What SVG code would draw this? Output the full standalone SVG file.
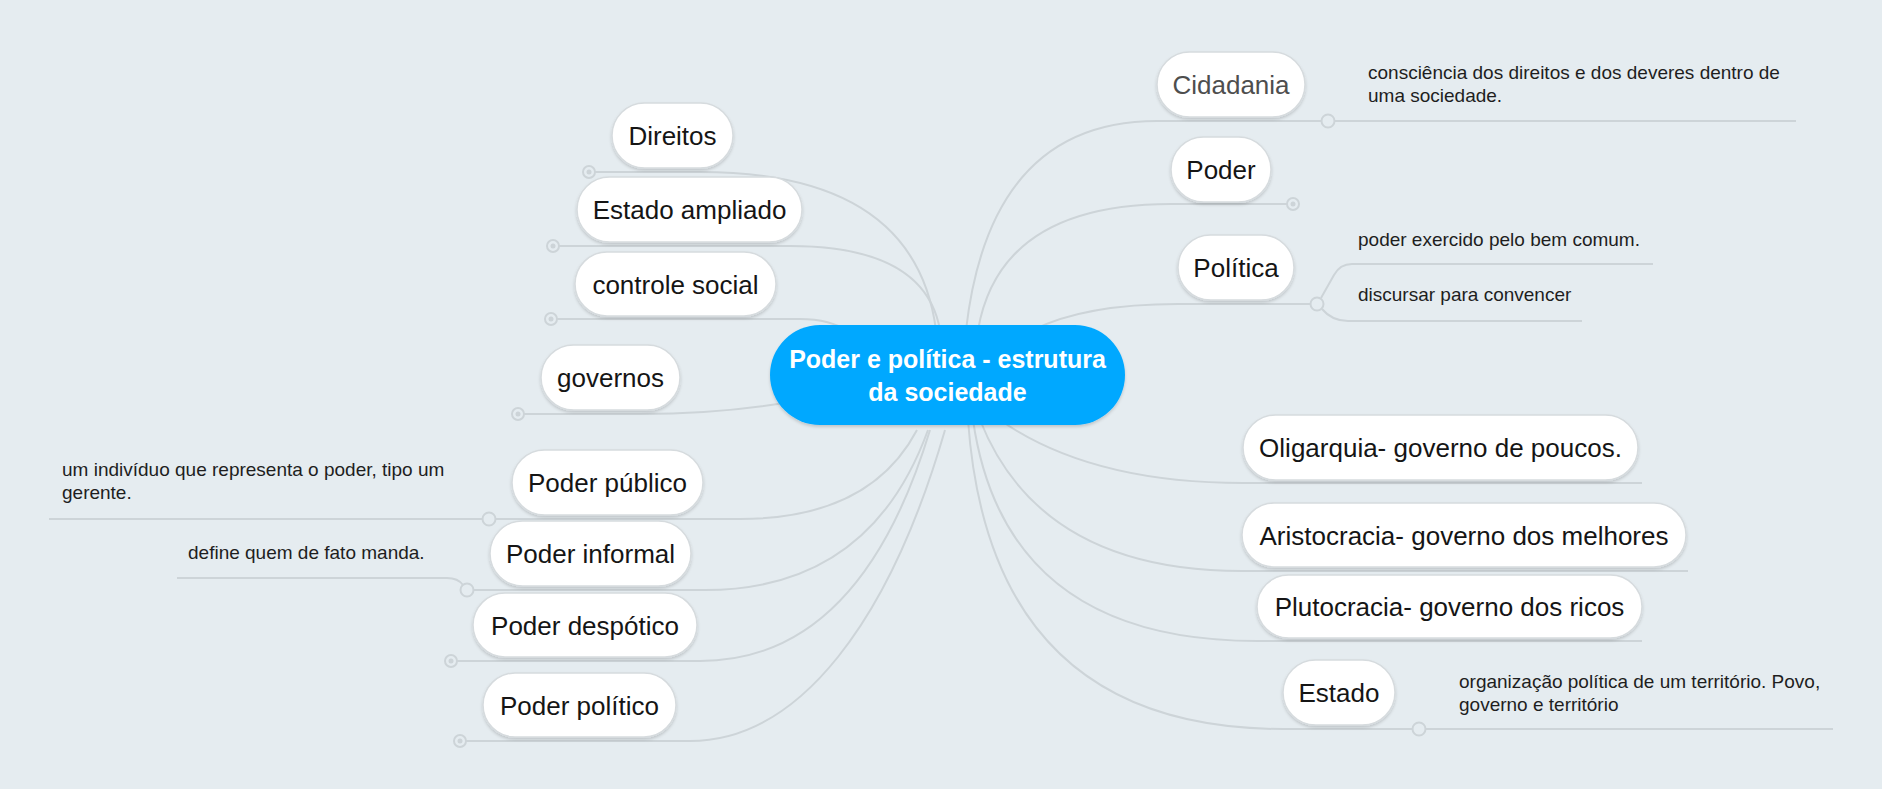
<svg xmlns="http://www.w3.org/2000/svg" width="1882" height="789" viewBox="0 0 1882 789">
<defs>
<filter id="sh" x="-10%" y="-20%" width="120%" height="150%">
<feDropShadow dx="0" dy="2" stdDeviation="1.6" flood-color="#000" flood-opacity="0.16"/>
</filter>
<style>
.bg{fill:#e5ecf0}
.ln{fill:none;stroke:#cdd4d8;stroke-width:2}
.node rect{fill:#fff;stroke:#d6dbde;stroke-width:1.5;filter:url(#sh)}
.node text{font-family:"Liberation Sans",Arial,sans-serif;font-size:26px;fill:#151515;text-anchor:middle}
.root rect{fill:#00a8ff;filter:url(#sh)}
.root text{font-family:"Liberation Sans",Arial,sans-serif;font-size:25px;font-weight:bold;fill:#fff;text-anchor:middle}
.desc{font-family:"Liberation Sans",Arial,sans-serif;font-size:19px;fill:#1e1e1e}
.oc{fill:#e5ecf0;stroke:#cdd4d8;stroke-width:2}
.dot{fill:#cdd4d8}
</style>
</defs>
<rect class="bg" x="0" y="0" width="1882" height="789"/>
<g id="connectors">
<path class="ln" d="M966,330 Q990,121 1157,121 L1796,121"/>
<path class="ln" d="M978,330 Q1000,204 1171,204 L1287,204"/>
<path class="ln" d="M1033,330 Q1085,304 1178,304 L1311,304"/>
<path class="ln" d="M1321,298 L1334,275 Q1340,264 1352,264 L1653,264"/>
<path class="ln" d="M1322,309 Q1332,321 1348,321 L1582,321"/>
<path class="ln" d="M1000,420 Q1090,483 1243,483 L1642,483"/>
<path class="ln" d="M980,420 Q1040,571 1242,571 L1688,571"/>
<path class="ln" d="M973,420 Q1005,641 1257,641 L1642,641"/>
<path class="ln" d="M968,420 Q990,729 1283,729 L1833,729"/>
<path class="ln" d="M595,172 L700,172 Q915,172 936,330"/>
<path class="ln" d="M559,246 L790,246 Q925,246 940,330"/>
<path class="ln" d="M557,319 L800,319 Q830,319 850,332"/>
<path class="ln" d="M524,414 L640,414 Q720,414 790,402"/>
<path class="ln" d="M49,519 L740,519 Q870,519 917,430"/>
<path class="ln" d="M177,578 L447,578 Q458,578 463,585"/>
<path class="ln" d="M467,590 L705,590 Q870,590 928,430"/>
<path class="ln" d="M457,661 L700,661 Q860,661 930,430"/>
<path class="ln" d="M466,741 L690,741 C800,741 890,620 945,430"/>
<circle class="oc" cx="1328" cy="121" r="6.5"/>
<circle class="oc" cx="1317" cy="304" r="6.5"/>
<circle class="oc" cx="1419" cy="729" r="6.5"/>
<circle class="oc" cx="489" cy="519" r="6.5"/>
<circle class="oc" cx="467" cy="590" r="6.5"/>
<circle class="oc" cx="1293" cy="204" r="6"/><circle class="dot" cx="1293" cy="204" r="2.5"/>
<circle class="oc" cx="589" cy="172" r="6"/><circle class="dot" cx="589" cy="172" r="2.5"/>
<circle class="oc" cx="553" cy="246" r="6"/><circle class="dot" cx="553" cy="246" r="2.5"/>
<circle class="oc" cx="551" cy="319" r="6"/><circle class="dot" cx="551" cy="319" r="2.5"/>
<circle class="oc" cx="518" cy="414" r="6"/><circle class="dot" cx="518" cy="414" r="2.5"/>
<circle class="oc" cx="451" cy="661" r="6"/><circle class="dot" cx="451" cy="661" r="2.5"/>
<circle class="oc" cx="460" cy="741" r="6"/><circle class="dot" cx="460" cy="741" r="2.5"/>
</g>
<g id="root" class="root">
<rect x="770" y="325" width="355" height="100" rx="50"/>
<text x="947.5" y="368">Poder e política - estrutura</text>
<text x="947.5" y="401">da sociedade</text>
</g>
<g id="n-cidadania" class="node"><rect x="1157" y="52" width="148" height="65" rx="32.5"/><text x="1231" y="94" style="fill:#4e4e4e">Cidadania</text></g>
<g id="n-poder" class="node"><rect x="1171" y="137" width="100" height="65" rx="32.5"/><text x="1221" y="179">Poder</text></g>
<g id="n-politica" class="node"><rect x="1178" y="235" width="116" height="65" rx="32.5"/><text x="1236" y="277">Política</text></g>
<g id="n-oligarquia" class="node"><rect x="1243" y="415" width="395" height="65" rx="32.5"/><text x="1440.5" y="457">Oligarquia- governo de poucos.</text></g>
<g id="n-aristocracia" class="node"><rect x="1242" y="503" width="444" height="64" rx="32"/><text x="1464" y="544.5">Aristocracia- governo dos melhores</text></g>
<g id="n-plutocracia" class="node"><rect x="1257" y="575" width="385" height="63" rx="31.5"/><text x="1449.5" y="616">Plutocracia- governo dos ricos</text></g>
<g id="n-estado" class="node"><rect x="1283" y="660" width="112" height="65" rx="32.5"/><text x="1339" y="702">Estado</text></g>
<g id="n-direitos" class="node"><rect x="612" y="103" width="121" height="65" rx="32.5"/><text x="672.5" y="145">Direitos</text></g>
<g id="n-estado-ampliado" class="node"><rect x="577" y="177" width="225" height="65" rx="32.5"/><text x="689.5" y="219">Estado ampliado</text></g>
<g id="n-controle-social" class="node"><rect x="575" y="252" width="201" height="64" rx="32"/><text x="675.5" y="293.5">controle social</text></g>
<g id="n-governos" class="node"><rect x="541" y="345" width="139" height="65" rx="32.5"/><text x="610.5" y="387">governos</text></g>
<g id="n-poder-publico" class="node"><rect x="512" y="450" width="191" height="65" rx="32.5"/><text x="607.5" y="492">Poder público</text></g>
<g id="n-poder-informal" class="node"><rect x="490" y="521" width="201" height="65" rx="32.5"/><text x="590.5" y="563">Poder informal</text></g>
<g id="n-poder-despotico" class="node"><rect x="473" y="593" width="224" height="64" rx="32"/><text x="585" y="634.5">Poder despótico</text></g>
<g id="n-poder-politico" class="node"><rect x="483" y="673" width="193" height="64" rx="32"/><text x="579.5" y="714.5">Poder político</text></g>
<g id="descriptions">
<text class="desc" x="1368" y="79">consciência dos direitos e dos deveres dentro de</text>
<text class="desc" x="1368" y="102">uma sociedade.</text>
<text class="desc" x="1358" y="246">poder exercido pelo bem comum.</text>
<text class="desc" x="1358" y="301">discursar para convencer</text>
<text class="desc" x="62" y="476">um indivíduo que representa o poder, tipo um</text>
<text class="desc" x="62" y="499">gerente.</text>
<text class="desc" x="188" y="559">define quem de fato manda.</text>
<text class="desc" x="1459" y="688">organização política de um território. Povo,</text>
<text class="desc" x="1459" y="711">governo e território</text>
</g>
</svg>
